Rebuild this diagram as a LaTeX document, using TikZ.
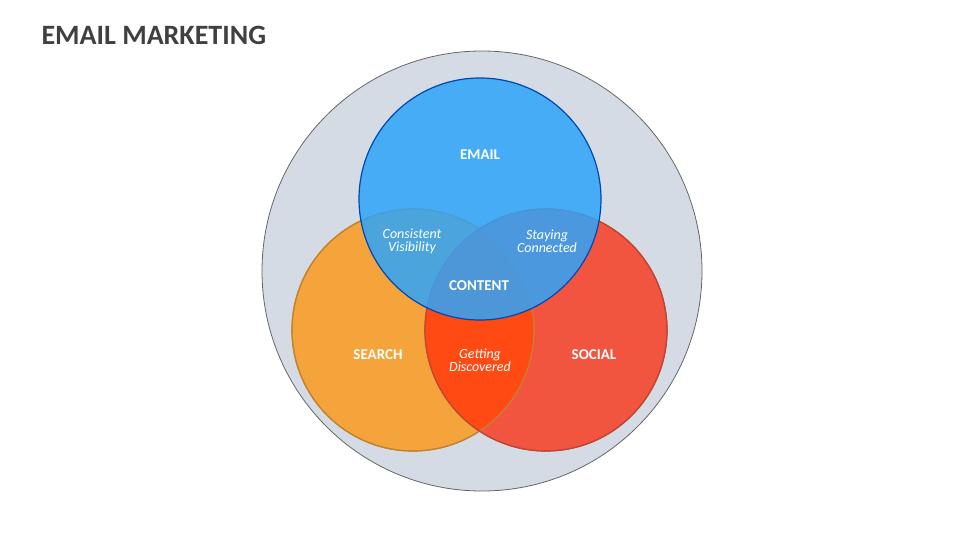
\documentclass[tikz,border=0pt]{standalone}
\usepackage{fontspec}
\setmainfont{Carlito}
\begin{document}
\begin{tikzpicture}[x=1pt,y=-1pt,
  ring/.style={circle,inner sep=0pt,minimum size=242pt,line width=1.2pt},
  lbl/.style={text=white,font=\bfseries\fontsize{15}{17}\selectfont},
  ilbl/.style={text=white,font=\itshape\fontsize{14}{16}\selectfont,align=center}]
\definecolor{bigc}{HTML}{D5DBE4}
\definecolor{bluec}{HTML}{2FA4FA}
\definecolor{orc}{HTML}{F4A43A}
\definecolor{redc}{HTML}{F2553F}
\definecolor{midc}{HTML}{FF4A14}
\useasboundingbox (0,0) rectangle (960,540);
\node[anchor=west,font=\bfseries\fontsize{28}{32}\selectfont,text=black!75] (title) at (38,35) {EMAIL MARKETING};
\node[circle,inner sep=0pt,minimum size=440pt,fill=bigc,draw=gray!80!black,line width=0.8pt] (big) at (482,271) {};
\node[ring,fill=orc,draw=orc!80!black] (search) at (413,330) {};
\node[ring,fill=redc,draw=redc!80!black] (social) at (546,330) {};
\begin{scope}
  \clip (413,330) circle (121);
  \fill[midc] (546,330) circle (121);
\end{scope}
\draw[orc!80!black,line width=1.2pt] (413,330) circle (121);
\draw[redc!80!black,line width=1.2pt] (546,330) circle (121);
\node[ring,fill=bluec,fill opacity=0.85,draw=blue!60!cyan!70!black] (email) at (480,199) {};
\node[lbl] (temail) at (480,155) {EMAIL};
\node[lbl] (tsearch) at (378,355) {SEARCH};
\node[lbl] (tsocial) at (594,355) {SOCIAL};
\node[lbl] (tcontent) at (479,286) {CONTENT};
\node[ilbl] (tcv) at (412,241) {Consistent\\[-3pt]Visibility};
\node[ilbl] (tsc) at (547,241) {Staying\\[-3pt]Connected};
\node[ilbl] (tgd) at (480,360) {Getting\\[-3pt]Discovered};
\end{tikzpicture}
\end{document}
